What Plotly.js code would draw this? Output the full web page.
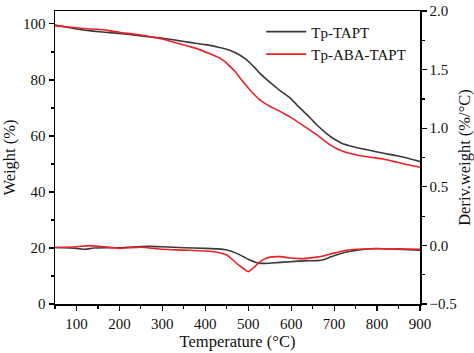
<!DOCTYPE html>
<html>
<head>
<meta charset="utf-8">
<script src="https://cdn.plot.ly/plotly-3.0.1.min.js"></script>
<style>html,body{margin:0;padding:0;background:#fff;}#chart{width:474px;height:353px;}</style>
</head>
<body>
<div id="chart"></div>
<script>
var tgBlackX = [50,75,100,130,160,200,246,300,330,363,400,433,457,480,492,503,515,526,538,550,562,573,586,598,613,629,645,660,676,691,707,722,738,753,769,785,816,847,872,900];
var tgBlackY = [99.6,98.9,98.2,97.6,97.1,96.6,95.8,94.9,94.2,93.4,92.6,91.6,90.6,88.9,87.7,86.2,84.4,82.5,80.8,79.2,77.7,76.3,74.9,73.5,71.1,68.7,66.3,63.9,61.7,59.8,58.3,57.1,56.4,55.8,55.3,54.8,53.8,52.9,52.0,50.8];

var tgRedX = [50,75,100,130,150,175,200,246,280,300,330,363,385,411,433,445,457,470,480,492,503,515,526,538,550,567,583,598,629,660,691,707,722,738,753,785,816,847,872,900];
var tgRedY = [99.3,99.0,98.6,98.2,98.1,97.6,97.0,96.1,95.2,94.6,93.3,91.9,90.9,89.3,87.8,86.6,84.9,82.9,80.9,78.6,76.6,74.6,73.0,71.7,70.6,69.3,68.0,66.7,63.6,60.4,56.8,55.4,54.4,53.7,53.2,52.4,51.7,50.6,49.7,48.8];

var dtgBlackX = [50,100,120,140,175,200,250,270,300,350,400,430,450,473,488,504,518,528,548,567,598,629,660,677,691,707,722,738,754,785,816,847,900];
var dtgBlackY = [-0.018,-0.025,-0.033,-0.022,-0.02,-0.02,-0.01,-0.008,-0.012,-0.02,-0.025,-0.03,-0.04,-0.068,-0.095,-0.125,-0.145,-0.153,-0.152,-0.147,-0.139,-0.132,-0.13,-0.12,-0.10,-0.08,-0.062,-0.05,-0.04,-0.028,-0.028,-0.033,-0.04];

var dtgRedX = [50,100,130,160,200,250,300,350,400,430,450,463,473,488,500,511,520,528,538,551,575,598,629,660,677,691,707,722,754,785,816,847,900];
var dtgRedY = [-0.018,-0.012,-0.002,-0.01,-0.025,-0.016,-0.033,-0.04,-0.048,-0.06,-0.082,-0.12,-0.153,-0.195,-0.224,-0.195,-0.165,-0.139,-0.115,-0.10,-0.096,-0.107,-0.113,-0.10,-0.088,-0.073,-0.06,-0.045,-0.033,-0.028,-0.03,-0.03,-0.033];

var names = ['Tp-TAPT', 'Tp-ABA-TAPT'];
var colBlack = '#3a3a3a', colRed = '#ec2227';
var fam = 'Liberation Serif, Times New Roman, serif';
var tickFont = {family: fam, size: 15, color: '#111'};
var titleFont = {family: fam, size: 16.5, color: '#111'};

var traces = [
  {x: tgBlackX, y: tgBlackY, mode: 'lines', name: names[0], line: {color: colBlack, width: 1.6, shape: 'spline', smoothing: 0.6}},
  {x: tgRedX, y: tgRedY, mode: 'lines', name: names[1], line: {color: colRed, width: 1.6, shape: 'spline', smoothing: 0.6}},
  {x: dtgBlackX, y: dtgBlackY, mode: 'lines', yaxis: 'y2', showlegend: false, line: {color: colBlack, width: 1.6, shape: 'spline', smoothing: 0.6}},
  {x: dtgRedX, y: dtgRedY, mode: 'lines', yaxis: 'y2', showlegend: false, line: {color: colRed, width: 1.6, shape: 'spline', smoothing: 0.6}}
];

var layout = {
  width: 474, height: 353,
  margin: {l: 55, r: 54, t: 11, b: 49},
  paper_bgcolor: '#fff', plot_bgcolor: '#fff',
  font: tickFont,
  showlegend: true,
  legend: {x: 0.565, y: 0.985, xanchor: 'left', yanchor: 'top', bgcolor: 'rgba(0,0,0,0)', font: {family: fam, size: 15, color: '#111'}, tracegroupgap: 0, itemwidth: 40},
  xaxis: {
    range: [50, 900], dtick: 100, tick0: 0, ticks: 'outside', ticklen: 5, tickwidth: 1.2, tickcolor: '#000',
    showline: true, linecolor: '#000', linewidth: 1.5, mirror: true, showgrid: false, zeroline: false,
    minor: {dtick: 50, ticks: 'outside', ticklen: 3, tickcolor: '#000', showgrid: false},
    title: {text: 'Temperature (°C)', font: titleFont, standoff: 5},
    tickfont: tickFont
  },
  yaxis: {
    range: [0, 104.6], dtick: 20, tick0: 0, ticks: 'outside', ticklen: 5, tickwidth: 1.2, tickcolor: '#000',
    showline: true, linecolor: '#000', linewidth: 1.5, showgrid: false, zeroline: false,
    minor: {dtick: 10, ticks: 'outside', ticklen: 3, tickcolor: '#000', showgrid: false},
    title: {text: 'Weight (%)', font: titleFont, standoff: 8},
    tickfont: tickFont
  },
  yaxis2: {
    overlaying: 'y', side: 'right', range: [-0.5, 2.0], dtick: 0.5, tick0: 0, ticks: 'outside', ticklen: 5, tickwidth: 1.2, tickcolor: '#000',
    showline: true, linecolor: '#000', linewidth: 1.5, showgrid: false, zeroline: false, tickformat: '.1f',
    minor: {dtick: 0.25, ticks: 'outside', ticklen: 3, tickcolor: '#000', showgrid: false},
    title: {text: 'Deriv.weight (%/°C)', font: titleFont, standoff: 4},
    tickfont: tickFont
  }
};

Plotly.newPlot('chart', traces, layout, {displayModeBar: false, staticPlot: true});
</script>
</body>
</html>
